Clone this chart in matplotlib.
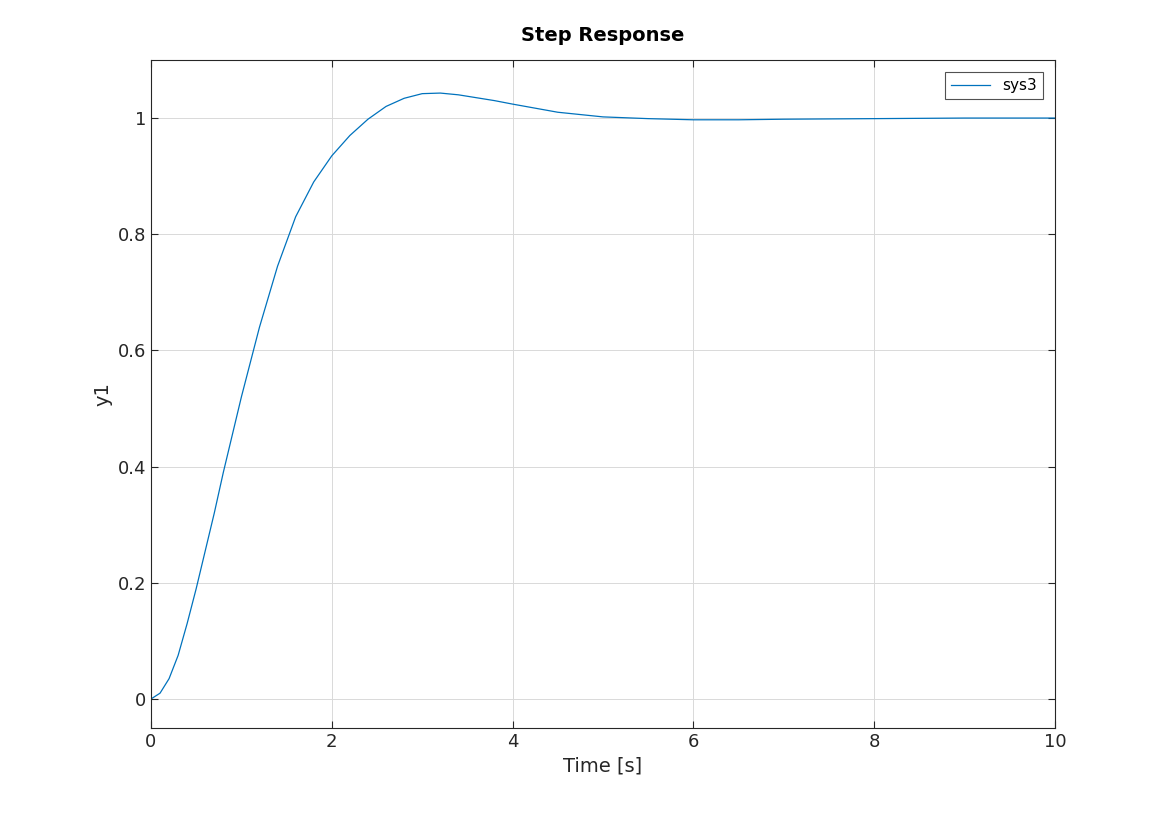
import matplotlib
matplotlib.use("Agg")
import matplotlib.pyplot as plt

t = [0, 0.1, 0.2, 0.3, 0.4, 0.5, 0.6, 0.7, 0.8, 1.0, 1.2, 1.4, 1.6, 1.8, 2.0, 2.2, 2.4, 2.6, 2.8,
     3.0, 3.2, 3.4, 3.6, 3.8, 4.0, 4.5, 5.0, 5.5, 6.0, 6.5, 7.0, 8.0, 9.0, 10.0]
y = [0, 0.01, 0.035, 0.075, 0.13, 0.19, 0.255, 0.32, 0.39, 0.52, 0.64, 0.745, 0.83, 0.89, 0.935,
     0.97, 0.998, 1.02, 1.034, 1.042, 1.043, 1.04, 1.035, 1.03, 1.024, 1.01, 1.002, 0.999, 0.997,
     0.997, 0.998, 0.999, 1.0, 1.0]

fig = plt.figure(figsize=(11.66, 8.18), dpi=100)
ax = fig.add_axes([0.1295, 0.11, 0.7753, 0.8167])
ax.plot(t, y, color="#0072bd", lw=0.9, label="sys3")
ax.set_xlim(0, 10)
ax.set_ylim(-0.05, 1.1)
ax.set_xticks([0, 2, 4, 6, 8, 10])
ax.set_yticks([0, 0.2, 0.4, 0.6, 0.8, 1])
ax.set_yticklabels(["0", "0.2", "0.4", "0.6", "0.8", "1"])
ax.grid(True, color="#d9d9d9", lw=0.7)
ax.tick_params(direction="in", top=True, right=True, labelsize=13, colors="#262626", length=5)
for s in ax.spines.values():
    s.set_color("#262626")
ax.set_xlabel("Time [s]", fontsize=14, color="#262626")
ax.set_ylabel("y1", fontsize=14, color="#262626")
ax.set_title("Step Response", fontsize=14, fontweight="bold", pad=14)
leg = ax.legend(loc="upper right", fontsize=11, fancybox=False, edgecolor="#262626",
                handlelength=2.5, borderaxespad=0.8)
leg.get_frame().set_linewidth(0.8)
fig.savefig("out.png")
